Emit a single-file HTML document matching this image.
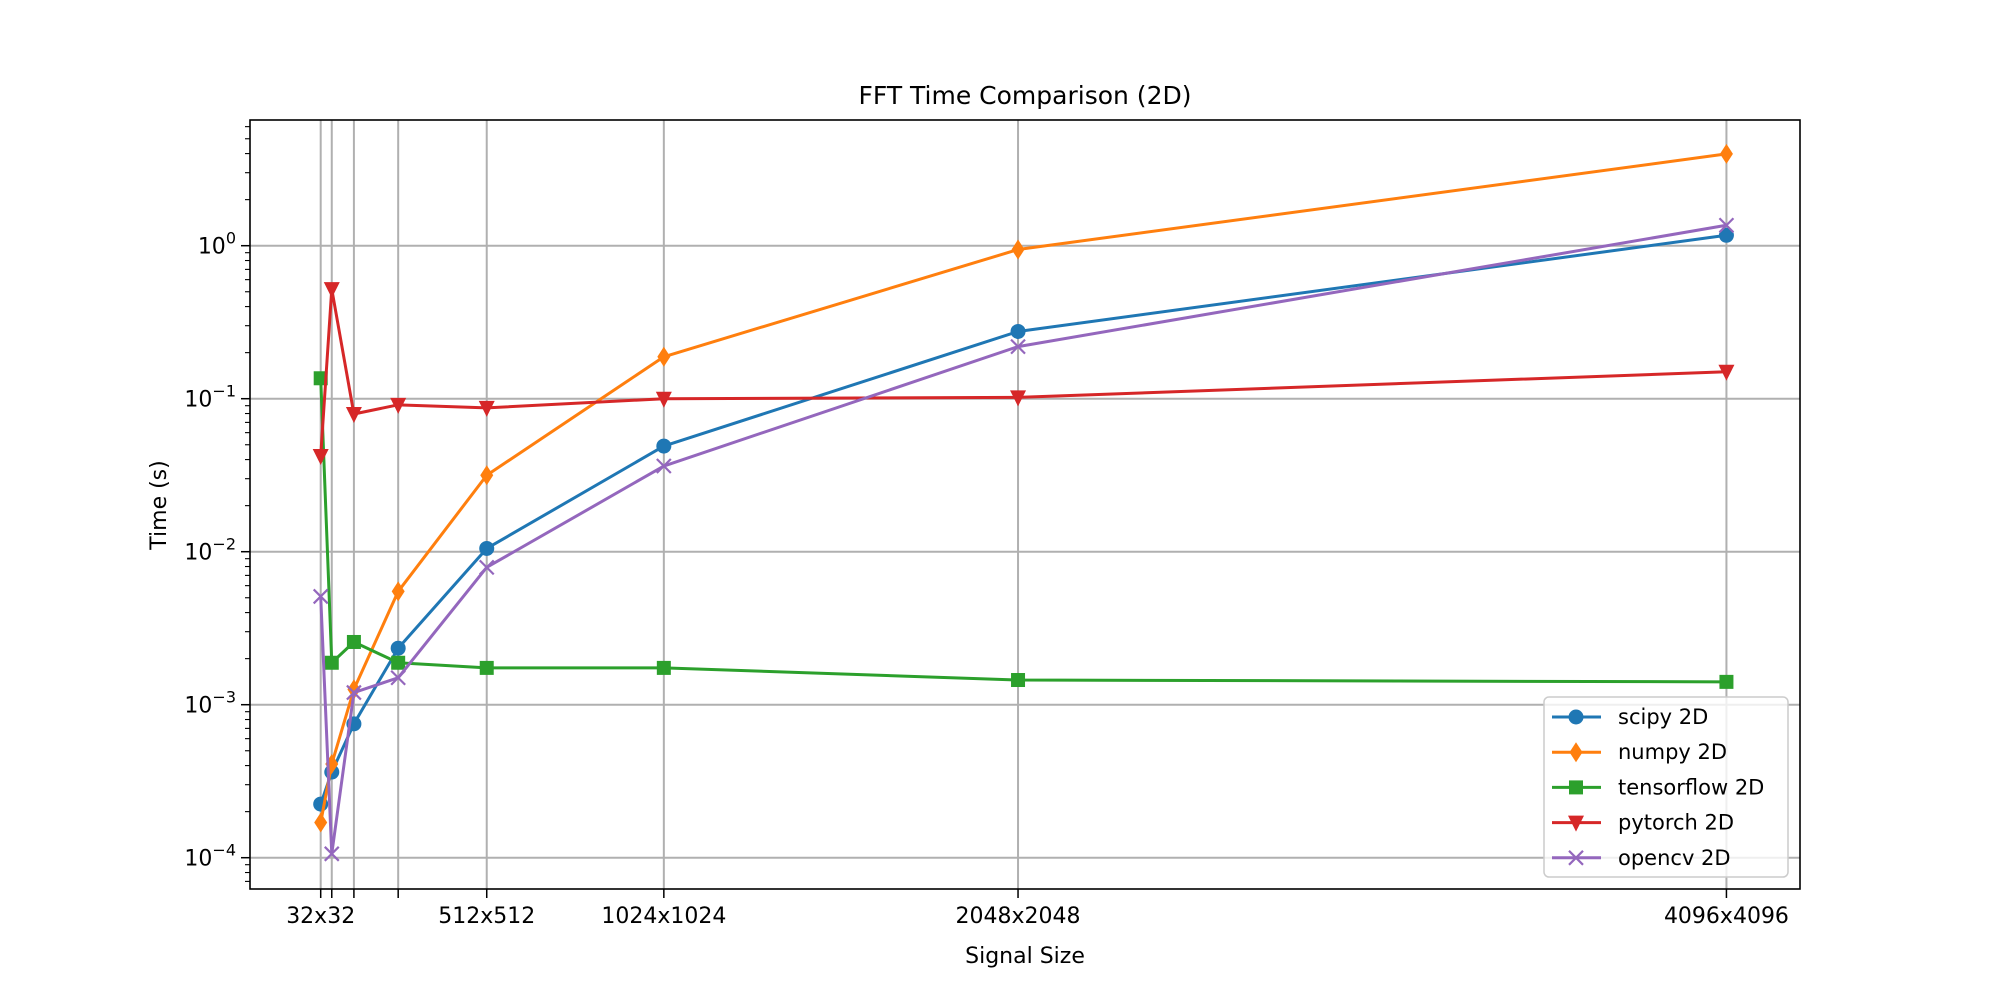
<!DOCTYPE html>
<html><head><meta charset="utf-8"><style>
html,body{margin:0;padding:0;background:#fff}
svg{display:block;font-family:"DejaVu Sans","Liberation Sans",sans-serif}
</style></head><body>
<svg id="chart" width="2000" height="1000" viewBox="0 0 2000 1000">
<rect width="2000" height="1000" fill="#fff"/>
<g id="grid"></g><g id="series"></g><g id="axes"></g>
<text x="1025" y="104" font-size="25" text-anchor="middle">FFT Time Comparison (2D)</text>
<text x="1025" y="963" font-size="22" text-anchor="middle">Signal Size</text>
<text x="0" y="0" font-size="22" text-anchor="middle" transform="translate(166,505) rotate(-90)">Time (s)</text>
<g id="legend"></g>
</svg>
<script>
const sizes=[32,64,128,256,512,1024,2048,4096];
const tickLabels=["32x32","","","","512x512","1024x1024","2048x2048","4096x4096"];
const seriesNames=["scipy 2D","numpy 2D","tensorflow 2D","pytorch 2D","opencv 2D"];
const scipy=[0.000224,0.000363,0.00075,0.00234,0.0105,0.049,0.275,1.17];
const numpy=[0.00017,0.00041,0.00126,0.0055,0.0316,0.188,0.944,3.98];
const tensorflow=[0.136,0.00188,0.00257,0.00188,0.00174,0.00174,0.00145,0.00141];
const pytorch=[0.0422,0.52,0.0794,0.0912,0.0871,0.1,0.102,0.15];
const opencv=[0.0051,0.000106,0.0012,0.0015,0.0079,0.0363,0.219,1.36];
const yTickExps=[-4,-3,-2,-1,0];
const colors=["#1f77b4","#ff7f0e","#2ca02c","#d62728","#9467bd"];
const markers=["circle","diamond","square","tri","x"];
const L=250,R=1800,T=120,B=889;
const xs=v=>320.7+(v-32)*0.3459;
const ys=v=>245.7-153*Math.log10(v);
const NS="http://www.w3.org/2000/svg";
function mk(tag,attrs,parent){const e=document.createElementNS(NS,tag);for(const k in attrs)e.setAttribute(k,attrs[k]);parent.appendChild(e);return e;}
const grid=document.getElementById('grid'),axes=document.getElementById('axes'),ser=document.getElementById('series'),leg=document.getElementById('legend');
sizes.forEach((s,i)=>{const x=xs(s);
 const g=mk('line',{x1:x,x2:x,y1:T,y2:B,stroke:'#b0b0b0','stroke-width':2},grid);
 
 
 const t=mk('line',{x1:x,x2:x,y1:B,y2:B+9,stroke:'#000','stroke-width':1.5},axes);
 
 
 if(tickLabels[i]){const tx=mk('text',{x:x,y:B+34,'font-size':22,'text-anchor':'middle'},axes);tx.textContent=tickLabels[i];
 
 }
});
for(let e=-5;e<=1;e++){for(let m=1;m<10;m++){const v=m*Math.pow(10,e);const y=ys(v);if(y<T||y>B)continue;
 if(m===1){const g=mk('line',{x1:L,x2:R,y1:y,y2:y,stroke:'#b0b0b0','stroke-width':2},grid);
  
  }
 const t=mk('line',{x1:L-(m===1?9:5),x2:L,y1:y,y2:y,stroke:'#000','stroke-width':m===1?1.5:1.1},axes);
 
 
}}
yTickExps.forEach(e=>{const y=ys(Math.pow(10,e));const tx=mk('text',{x:L-14,y:y+8,'font-size':22,'text-anchor':'end'},axes);
 tx.innerHTML='10<tspan dy="-10" font-size="16">'+(e<0?'\u2212'+(-e):e)+'</tspan>';
 
 });
const frame=mk('rect',{x:L,y:T,width:R-L,height:B-T,fill:'none',stroke:'#000','stroke-width':1.6},axes);


function marker(type,x,y,c,p){let e;
 if(type==='circle')e=mk('circle',{cx:x,cy:y,r:7.5,fill:c},p);
 else if(type==='diamond')e=mk('polygon',{points:`${x},${y-10} ${x+6.5},${y} ${x},${y+10} ${x-6.5},${y}`,fill:c},p);
 else if(type==='square')e=mk('rect',{x:x-7,y:y-7,width:14,height:14,fill:c},p);
 else if(type==='tri')e=mk('polygon',{points:`${x-8},${y-7} ${x+8},${y-7} ${x},${y+9}`,fill:c},p);
 else e=mk('path',{d:`M${x-7},${y-7}L${x+7},${y+7}M${x-7},${y+7}L${x+7},${y-7}`,stroke:c,'stroke-width':2.2,fill:'none'},p);
 return e;}
[scipy,numpy,tensorflow,pytorch,opencv].forEach((vals,si)=>{
 const g=mk('g',{},ser);
 
 
 const pl=mk('polyline',{points:vals.map((v,i)=>xs(sizes[i])+','+ys(v)).join(' '),fill:'none',stroke:colors[si],'stroke-width':3,'stroke-linejoin':'round'},g);
 
 
 vals.forEach((v,i)=>{const m=marker(markers[si],xs(sizes[i]),ys(v),colors[si],g);
  
  });
});
const lb=mk('rect',{x:1544,y:697,width:244,height:180,rx:5,fill:'#fff','fill-opacity':0.8,stroke:'#ccc','stroke-width':1.5},leg);


seriesNames.forEach((n,i)=>{const y=717+i*35.2;
 const g=mk('g',{},leg);
 
 
 mk('line',{x1:1552,x2:1601,y1:y,y2:y,stroke:colors[i],'stroke-width':3},g);
 marker(markers[i],1576,y,colors[i],g);
 const t=mk('text',{x:1618,y:y+7,'font-size':21},g);t.textContent=n;});
</script>
</body></html>
